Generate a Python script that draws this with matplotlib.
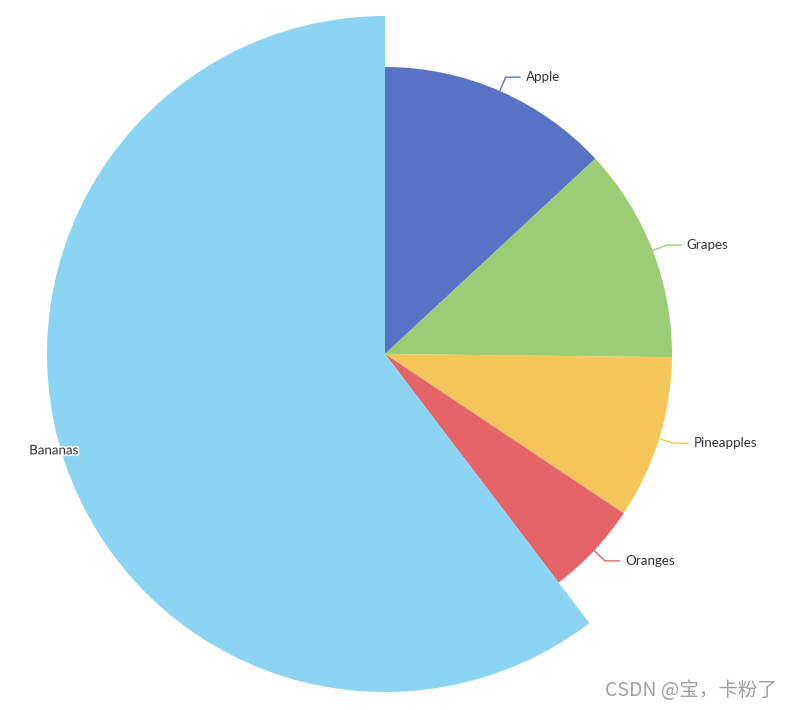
import numpy as np
import matplotlib
matplotlib.use("Agg")
import matplotlib.pyplot as plt
import matplotlib.patheffects as pe

names = ["Apple", "Grapes", "Pineapples", "Oranges", "Bananas"]
values = [13.1, 12.1, 9.2, 5.3, 60.4]
colors = ["#5873c5", "#9bcc76", "#f5c65a", "#e46468", "#8bd5f3"]
radii = [287, 287, 287, 287, 338]

W, H = 788, 710
fig = plt.figure(figsize=(W / 100, H / 100), dpi=100)
ax = fig.add_axes([0, 0, 1, 1])

cx, cy = 385, H - 354
wedges, _ = ax.pie(values, colors=colors, radius=287, center=(cx, cy),
                   startangle=90, counterclock=False, frame=True,
                   wedgeprops=dict(linewidth=0))
for w, r in zip(wedges, radii):
    w.set_radius(r)
ax.set_xlim(0, W)
ax.set_ylim(0, H)
ax.set_aspect("equal")
ax.axis("off")

base_r = 287
for w, name, col in zip(wedges, names, colors):
    mid = np.deg2rad((w.theta1 + w.theta2) / 2)
    x0, y0 = cx + base_r * np.cos(mid), cy + base_r * np.sin(mid)
    x1, y1 = cx + (base_r + 15) * np.cos(mid), cy + (base_r + 15) * np.sin(mid)
    side = 1 if np.cos(mid) >= 0 else -1
    x2 = x1 + side * 15
    ax.plot([x0, x1, x2], [y0, y1, y1], color=col, lw=1, solid_capstyle="butt", zorder=3)
    t = ax.text(x2 + side * 5, y1, name, ha="left" if side > 0 else "right",
                va="center", fontsize=9.6, color="#333333",
                family=["Lato", "DejaVu Sans"], zorder=4)
    if name == "Bananas":
        t.set_path_effects([pe.withStroke(linewidth=2.5, foreground="white")])

fig.text(605 / W, 1 - 690 / H, "CSDN @宝，卡粉了", fontsize=14, color="#a0a0a0",
         family=["Noto Sans CJK SC", "DejaVu Sans"], ha="left", va="center")

fig.savefig("out.png", dpi=100, facecolor="white")
